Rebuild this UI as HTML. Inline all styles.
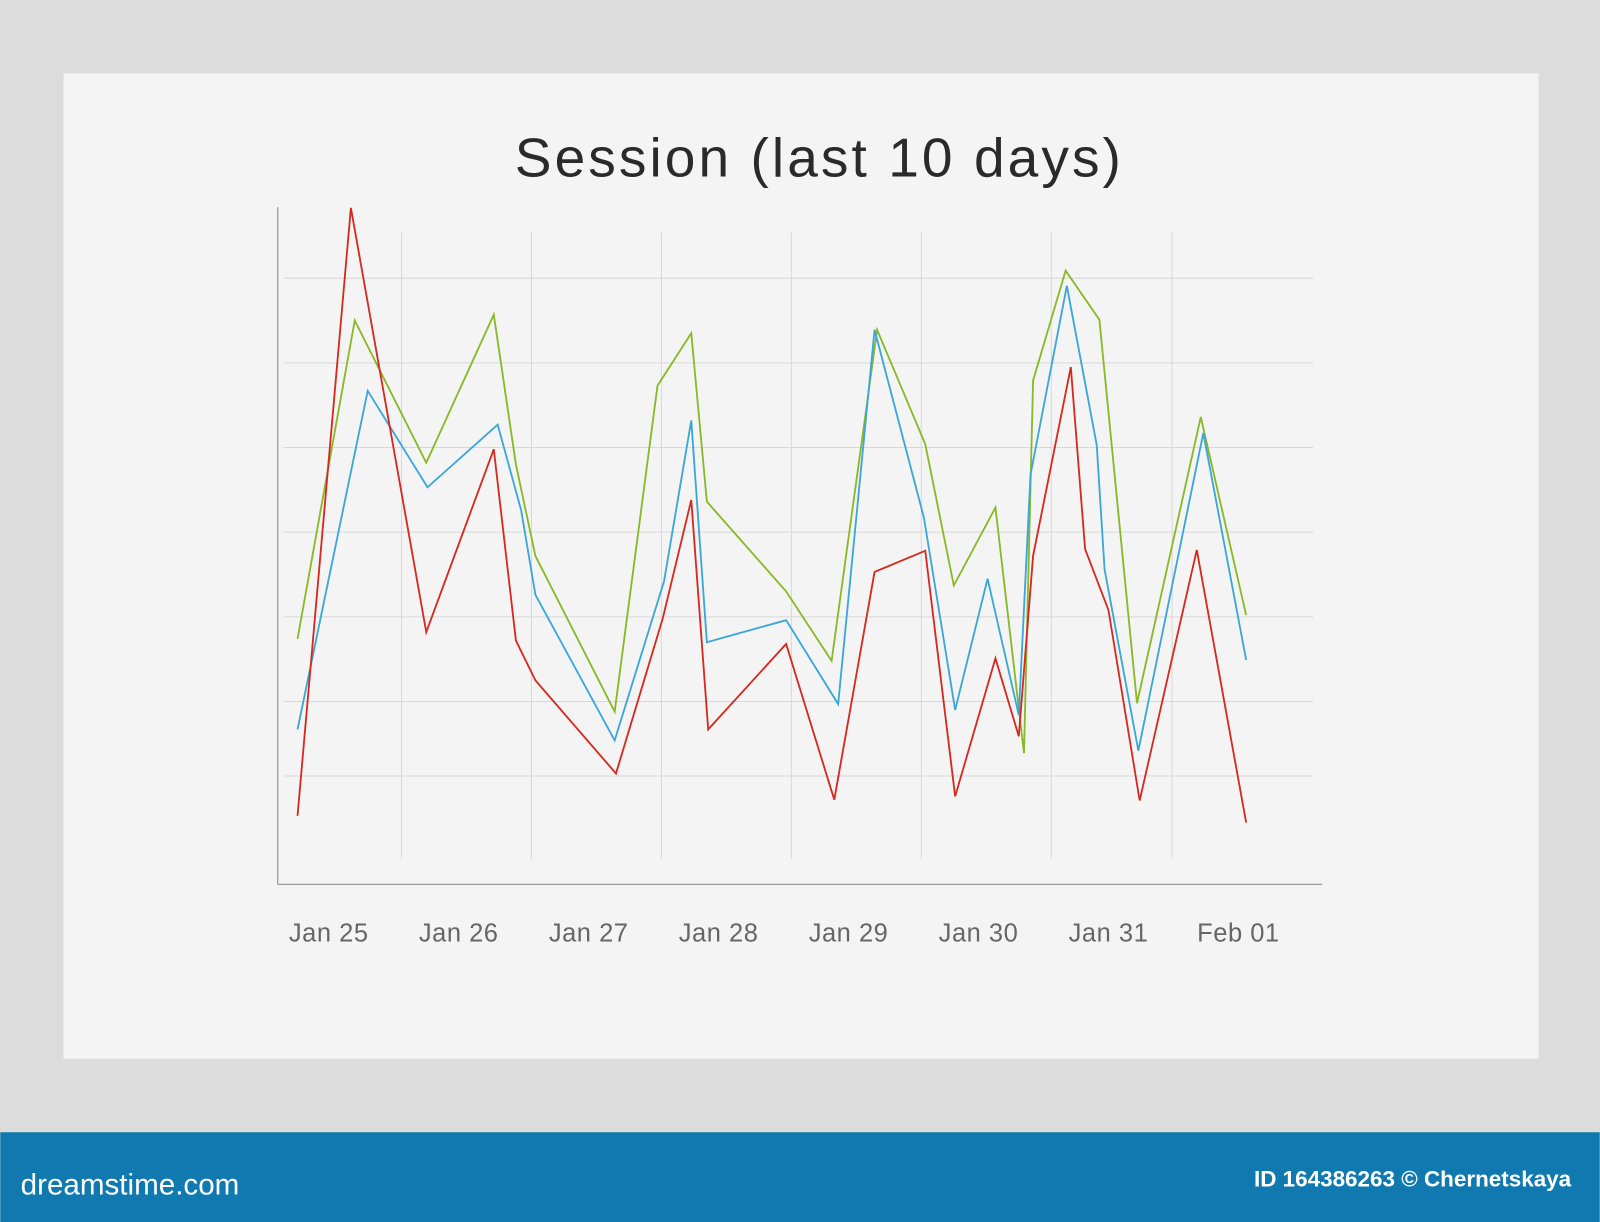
<!DOCTYPE html>
<html><head><meta charset="utf-8"><style>
html,body{margin:0;padding:0;width:1600px;height:1222px;overflow:hidden;background:#dcdcdc;}
svg{display:block}
</style></head><body>
<svg id="chart" width="1600" height="1222" viewBox="0 0 1568 1198" xmlns="http://www.w3.org/2000/svg" font-family="Liberation Sans, sans-serif">
<rect x="0" y="0" width="1568" height="1198" fill="#dcdcdc"/>
<rect x="62" y="72" width="1446" height="966" fill="#f4f4f4"/>
<text x="803" y="173" text-anchor="middle" font-size="54" letter-spacing="3" fill="#2a2a2a">Session (last 10 days)</text>
<g id="grid"></g>
<line x1="272" y1="203" x2="272" y2="867" stroke="#999" stroke-width="1.2"/>
<line x1="272" y1="867" x2="1296" y2="867" stroke="#999" stroke-width="1.2"/>
<g id="xlabels"></g>
<g id="series"></g>
<rect x="0" y="1110" width="1568" height="88" fill="#1079b0"/>
<text x="20" y="1171" font-size="29" fill="#fff">dreamstime.com</text>
<text x="1540" y="1163" text-anchor="end" font-size="22" font-weight="bold" fill="#fff">ID 164386263 © Chernetskaya</text>
</svg>
<script>
const categories = ["Jan 25","Jan 26","Jan 27","Jan 28","Jan 29","Jan 30","Jan 31","Feb 01"];
const redX = [-0.24,0.17,0.75,1.27,1.44,1.59,2.21,2.57,2.79,2.92,3.52,3.89,4.20,4.59,4.82,5.13,5.31,5.42,5.71,5.82,6.00,6.24,6.68,7.06];
const redY = [8.1,79.9,29.8,51.4,28.8,24.1,13.1,31.4,45.4,18.3,28.4,10.0,36.9,39.4,10.4,26.7,17.5,38.8,61.1,39.6,32.4,9.9,39.5,7.3];
const blueX = [-0.24,0.30,0.76,1.30,1.48,1.59,2.20,2.58,2.79,2.91,3.52,3.92,4.20,4.58,4.82,5.07,5.31,5.40,5.68,5.91,5.97,6.23,6.73,7.06];
const blueY = [18.3,58.3,46.9,54.3,44.2,34.2,17.0,35.8,54.8,28.6,31.2,21.3,65.5,43.3,20.6,36.1,20.0,48.4,70.7,51.9,37.2,15.8,53.3,26.5];
const greenX = [-0.24,0.20,0.75,1.27,1.44,1.59,2.20,2.53,2.79,2.91,3.52,3.87,4.22,4.59,4.81,5.13,5.35,5.42,5.67,5.93,6.22,6.71,7.06];
const greenY = [29.0,66.6,49.8,67.3,49.6,38.8,20.4,58.9,65.1,45.2,34.6,26.4,65.5,52.0,35.3,44.5,15.5,59.5,72.5,66.7,21.4,55.2,31.8];
const gridVals = [12.8,21.6,31.6,41.6,51.6,61.6,71.6];
const vGridDays = [0.56,1.56,2.56,3.56,4.56,5.56,6.49];

const NS = "http://www.w3.org/2000/svg";
function xs(d){ return 322 + d*127.4; }
function ys(v){ return 867 - v*8.3; }

const grid = document.getElementById('grid');
gridVals.forEach(v=>{
  const l=document.createElementNS(NS,'line');
  l.setAttribute('x1',278); l.setAttribute('x2',1287);
  l.setAttribute('y1',ys(v)); l.setAttribute('y2',ys(v));
  l.setAttribute('stroke','#d8d8d8'); l.setAttribute('stroke-width','1');
  
  
  grid.appendChild(l);
});
vGridDays.forEach(d=>{
  const l=document.createElementNS(NS,'line');
  l.setAttribute('x1',xs(d)); l.setAttribute('x2',xs(d));
  l.setAttribute('y1',228); l.setAttribute('y2',842);
  l.setAttribute('stroke','#d8d8d8'); l.setAttribute('stroke-width','1');
  
  
  grid.appendChild(l);
});
const xl = document.getElementById('xlabels');
categories.forEach((c,i)=>{
  const t=document.createElementNS(NS,'text');
  t.setAttribute('x',xs(i)); t.setAttribute('y',923);
  t.setAttribute('text-anchor','middle'); t.setAttribute('font-size','25'); t.setAttribute('fill','#666');
  t.setAttribute('letter-spacing','0.5');
  t.textContent=c;
  
  
  xl.appendChild(t);
});
const sg = document.getElementById('series');
function drawLine(X,Y,color,name){
  const p=document.createElementNS(NS,'polyline');
  p.setAttribute('points', X.map((d,i)=>xs(d).toFixed(1)+','+ys(Y[i]).toFixed(1)).join(' '));
  p.setAttribute('fill','none'); p.setAttribute('stroke',color); p.setAttribute('stroke-width','1.8');
  p.setAttribute('stroke-linejoin','miter');
  
  
  sg.appendChild(p);
}
drawLine(greenX,greenY,'#8ab827','green-series-line');
drawLine(blueX,blueY,'#3aa7d8','blue-series-line');
drawLine(redX,redY,'#d42a20','red-series-line');
</script>
</body></html>
